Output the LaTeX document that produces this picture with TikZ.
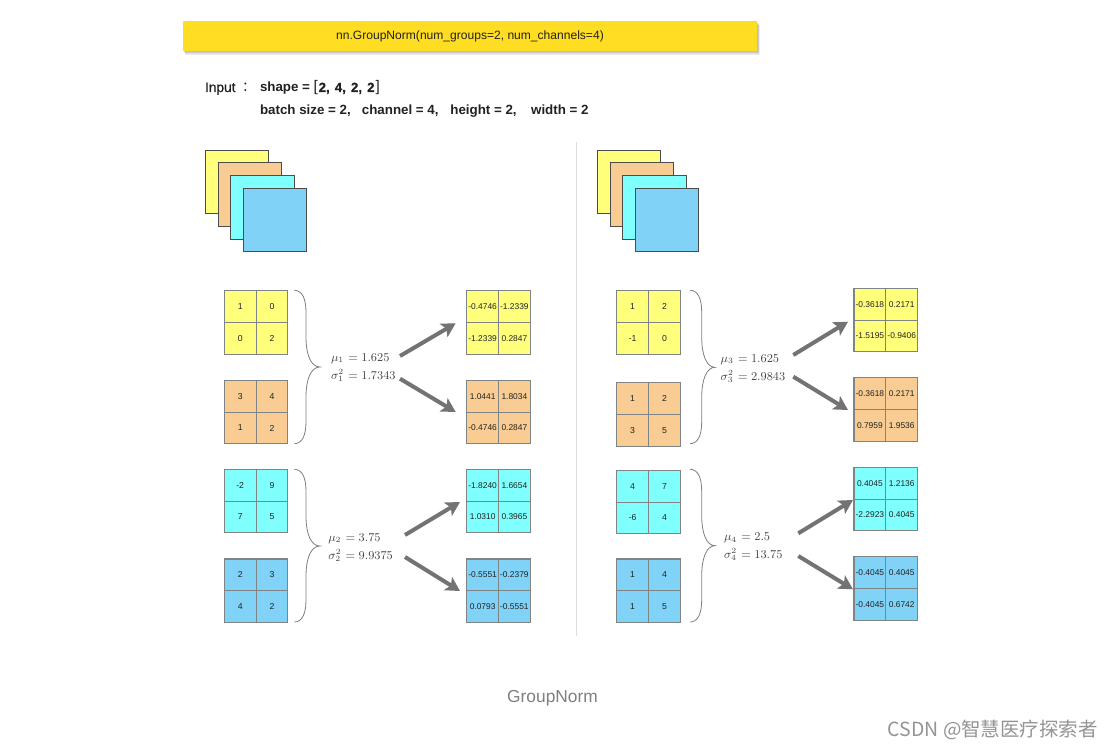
\documentclass[tikz,border=0pt]{standalone}
\usepackage[no-math]{fontspec}
\usetikzlibrary{arrows.meta}
\newfontfamily\arialf{Liberation Sans}
\newfontfamily\arialm[FakeBold=0.35]{Liberation Sans}
\newfontfamily\cjkf{Noto Sans CJK SC}
\definecolor{cyel}{HTML}{FFFF7C}
\definecolor{corg}{HTML}{F8CC92}
\definecolor{ccya}{HTML}{80FFFF}
\definecolor{cblu}{HTML}{80D3F7}
\definecolor{cbar}{HTML}{FFDD22}
\definecolor{cedge}{HTML}{7F8585}
\definecolor{ctxt}{HTML}{222222}
\definecolor{cstat}{HTML}{444444}
\tikzset{
  x=0.75pt,y=-0.75pt,
  cellbox/.style={draw=cedge,line width=0.8pt,minimum size=23.85pt,inner sep=0pt,outer sep=0pt,
    anchor=north west,font=\arialf\fontsize{6.3}{7}\selectfont,text=ctxt},
  inbox/.style={cellbox,font=\arialf\fontsize{6.5}{7}\selectfont},
  stacksheet/.style={draw=black!70,line width=0.75pt,minimum size=47.6pt,inner sep=0pt,outer sep=0pt,anchor=north west},
  statnode/.style={anchor=west,inner sep=0pt,outer sep=0pt,text=cstat,font=\fontsize{9}{10}\selectfont},
  bracecurve/.style={draw=black!50,line width=0.6pt},
  normarrow/.style={draw=black!55,line width=3pt,-{Stealth[length=10.5pt,width=11.5pt,inset=2.5pt]}},
  infotext/.style={anchor=base west,inner sep=0pt,outer sep=0pt,text=ctxt,font=\arialf\fontsize{10}{12}\selectfont},
  barshadow/.style={fill=black,fill opacity=0.07,draw=none},
}
\newcommand{\cellgrid}[8]{%
  \begin{scope}[shift={(#2,#3)}]
    \node[#4] (#1a) at (0,0) {#5};
    \node[#4] (#1b) at (31.8,0) {#6};
    \node[#4] (#1c) at (0,31.8) {#7};
    \node[#4] (#1d) at (31.8,31.8) {#8};
  \end{scope}}
\newcommand{\sheetstack}[3]{%
  \node[stacksheet,fill=cyel] (#1y) at (#2,#3) {};
  \node[stacksheet,fill=corg] (#1o) at (#2+12.7,#3+12.7) {};
  \node[stacksheet,fill=ccya] (#1c) at (#2+25.4,#3+25.4) {};
  \node[stacksheet,fill=cblu] (#1b) at (#2+38.1,#3+38.1) {};}
\newcommand{\grpbrace}[6]{% xstart xbulge xtip ytop ytip ybot
  \draw[bracecurve] (#1,#4) .. controls (#2-4,#4) and (#2,#4+8) .. (#2,#4+22)
    -- (#2,#5-30) .. controls (#2,#5-12) and (#2+5,#5) .. (#3,#5)
    .. controls (#2+5,#5) and (#2,#5+12) .. (#2,#5+30)
    -- (#2,#6-22) .. controls (#2,#6-8) and (#2-4,#6) .. (#1,#6);}
\newcommand{\statlines}[7]{%
  \node[statnode] (#1) at (#2,#3) {$\begin{array}{@{}l@{\hspace{3.2pt}}c@{\hspace{2.6pt}}l@{}}#4&=&#5\\[2.8pt]#6&=&#7\end{array}$};}
\begin{document}
\begin{tikzpicture}
\useasboundingbox[fill=white] (0,0) rectangle (1112,748);
% header
\foreach \s in {1,2,3,4} {\fill[barshadow] (183+\s*0.6,20.7+\s) rectangle (757+\s*0.8,50.7+\s*1.2);}
\node[fill=cbar,minimum width=430.5pt,minimum height=22.5pt,inner sep=0pt,outer sep=0pt,anchor=north west] (header) at (183,20.7) {};
\node[inner sep=0pt,text=ctxt,font=\arialf\fontsize{9.05}{11}\selectfont] (headertext) at (470,36.2) {nn.GroupNorm(num\_groups=2, num\_channels=4)};
% input text
\node[infotext,font=\arialm\fontsize{10.3}{12}\selectfont] (inputlabel) at (205,92) {Input};
\node[infotext,font=\cjkf\fontsize{10}{12}\selectfont] (inputcolon) at (242,92) {：};
\node[infotext,font=\arialf\fontsize{10}{12}\bfseries\selectfont] (shapetext) at (260,92) {shape = {\mdseries\fontsize{11.5}{12}\selectfont[}\kern0.5pt{\arialm 2,\kern1pt\ 4,\kern1pt\ 2,\kern1pt\ 2}\kern0.8pt{\mdseries\fontsize{11.5}{12}\selectfont]}};
\node[infotext,font=\arialf\fontsize{10}{12}\bfseries\selectfont] (dimstext) at (260,115) {batch size = 2,\ \ \ channel = 4,\ \ \ \kern0.5pt height = 2,\ \ \ \kern2.5pt width = 2};
% divider
\coordinate (divtop) at (576.7,142);
\coordinate (divbot) at (576.7,636);
\draw[draw=black!13,line width=0.75pt] (divtop) -- (divbot);
% stacks
\sheetstack{sl}{205.3}{150.3}
\sheetstack{sr}{597.3}{150.3}
% left input grids
\cellgrid{la}{224.3}{290.7}{inbox,fill=cyel}{1}{0}{0}{2}
\cellgrid{lb}{224.3}{380.3}{inbox,fill=corg}{3}{4}{1}{2}
\cellgrid{lc}{224.3}{469.3}{inbox,fill=ccya}{-2}{9}{7}{5}
\cellgrid{ld}{224.3}{559}{inbox,fill=cblu}{2}{3}{4}{2}
% left output grids
\cellgrid{oa}{466.7}{290.7}{cellbox,fill=cyel}{-0.4746}{-1.2339}{-1.2339}{0.2847}
\cellgrid{ob}{466.7}{380.3}{cellbox,fill=corg}{1.0441}{1.8034}{-0.4746}{0.2847}
\cellgrid{oc}{466.7}{469.3}{cellbox,fill=ccya}{-1.8240}{1.6654}{1.0310}{0.3965}
\cellgrid{od}{466.7}{559}{cellbox,fill=cblu}{-0.5551}{-0.2379}{0.0793}{-0.5551}
% right input grids
\cellgrid{ra}{616.7}{290.7}{inbox,fill=cyel}{1}{2}{-1}{0}
\cellgrid{rb}{616.7}{382.7}{inbox,fill=corg}{1}{2}{3}{5}
\cellgrid{rc}{616.7}{470.3}{inbox,fill=ccya}{4}{7}{-6}{4}
\cellgrid{rd}{616.7}{559}{inbox,fill=cblu}{1}{4}{1}{5}
% right output grids
\cellgrid{pa}{854}{288.3}{cellbox,fill=cyel}{-0.3618}{0.2171}{-1.5195}{-0.9406}
\cellgrid{pb}{854}{377.7}{cellbox,fill=corg}{-0.3618}{0.2171}{0.7959}{1.9536}
\cellgrid{pc}{854}{467.3}{cellbox,fill=ccya}{0.4045}{1.2136}{-2.2923}{0.4045}
\cellgrid{pd}{854}{556.7}{cellbox,fill=cblu}{-0.4045}{0.4045}{-0.4045}{0.6742}
% braces
\grpbrace{294.3}{306}{320}{290.3}{367}{443.7}
\grpbrace{294.3}{306}{320}{469.3}{546}{622}
\grpbrace{690}{701.7}{715}{290.3}{367.3}{443.7}
\grpbrace{690}{701.7}{715}{469.3}{545.7}{622}
% statistics
\statlines{s1}{331}{367.5}{\mu_1}{1.625}{\sigma_1^2}{1.7343}
\statlines{s2}{328.3}{547.5}{\mu_2}{3.75}{\sigma_2^2}{9.9375}
\statlines{s3}{720.7}{368.5}{\mu_3}{1.625}{\sigma_3^2}{2.9843}
\statlines{s4}{724}{547}{\mu_4}{2.5}{\sigma_4^2}{13.75}
% arrows
\coordinate (a1s) at (400,356);     \coordinate (a1e) at (455.7,323.3);
\coordinate (a2s) at (400,378.7);   \coordinate (a2e) at (455.7,412);
\coordinate (a3s) at (405,535);     \coordinate (a3e) at (460,502);
\coordinate (a4s) at (405,557);     \coordinate (a4e) at (460,591);
\coordinate (a5s) at (793.3,355);   \coordinate (a5e) at (848,321.7);
\coordinate (a6s) at (793.3,376.7); \coordinate (a6e) at (848,410);
\coordinate (a7s) at (798.3,533.3); \coordinate (a7e) at (853,500);
\coordinate (a8s) at (798.3,556);   \coordinate (a8e) at (853,589.3);
\foreach \k in {1,...,8} {\draw[normarrow] (a\k s) -- (a\k e);}
% captions
\node[inner sep=0pt,text=black!50,font=\arialf\fontsize{13}{15}\selectfont] (caption) at (552.5,698.5) {GroupNorm};
\node[anchor=east,inner sep=0pt,text=black!42,font=\cjkf\fontsize{14.6}{16}\selectfont] (watermark) at (1098,730) {CSDN @智慧医疗探索者};
\end{tikzpicture}
\end{document}
